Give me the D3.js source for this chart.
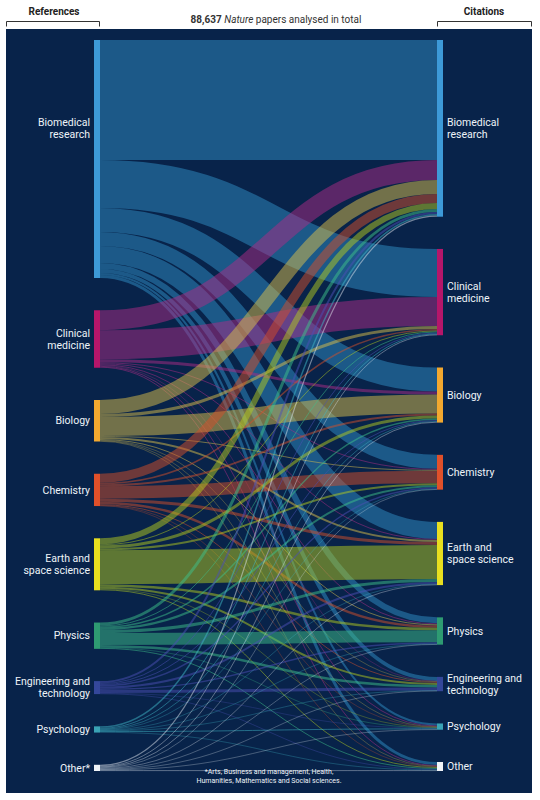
<!DOCTYPE html>
<html>
<head>
<meta charset="utf-8">
<script src="https://cdn.jsdelivr.net/npm/d3@7"></script>
<style>
  body { margin: 0; background: #fff; }
  svg { display: block; }
</style>
</head>
<body>
<div id="chart"></div>
<script>
// fields, in the order they are stacked on both sides
const fields = ["Biomedical research", "Clinical medicine", "Biology", "Chemistry",
    "Earth and space science", "Physics", "Engineering and technology", "Psychology", "Other"];
const refLabels = [["Biomedical", "research"], ["Clinical", "medicine"], ["Biology"], ["Chemistry"],
    ["Earth and", "space science"], ["Physics"], ["Engineering and", "technology"], ["Psychology"], ["Other*"]];
const citeLabels = [["Biomedical", "research"], ["Clinical", "medicine"], ["Biology"], ["Chemistry"],
    ["Earth and", "space science"], ["Physics"], ["Engineering and", "technology"], ["Psychology"], ["Other"]];

// references from one field -> citations in each field (same order as fields)
const fromBiomedical  = [120, 48, 24, 14, 17, 6, 4, 2, 3];
const fromClinical    = [20, 29, 3, 1, 1, 1, 0.5, 1, 1];
const fromBiology     = [14, 3, 19, 1, 2, 1, 0.5, 0.5, 0.5];
const fromChemistry   = [9, 1.5, 2, 12.5, 3, 2.5, 1, 0.3, 0.5];
const fromEarth       = [6, 1, 3, 2, 34, 2.5, 2, 0.5, 1];
const fromPhysics     = [3, 1, 1.5, 2, 3, 12, 2.5, 0.3, 1];
const fromEngineering = [2, 1, 1, 1.5, 2, 1.5, 3, 0.3, 0.7];
const fromPsychology  = [1.5, 1, 0.8, 0.3, 0.5, 0.3, 0.3, 1, 0.5];
const fromOther       = [1.2, 0.8, 0.8, 0.5, 0.7, 0.5, 0.5, 0.4, 0.8];

const totalPapers = "88,637";
const footnote = ["*Arts, Business and management, Health,", "Humanities, Mathematics and Social sciences."];

// styles
const nodeColors = ["#3d9ad8", "#b5166a", "#f2a82f", "#e0502a", "#e8df1f", "#2e9b72", "#34479a", "#3aa3b5", "#f0f4f8"];
const linkColors = ["#2f90c6", "#ad2c86", "#dcc04a", "#d3502a", "#b4cc1e", "#3ec28a", "#4b50b6", "#3fb8c8", "#dfe6ee"];
const bg = "#08234a";
const font = "Roboto, 'Liberation Sans', sans-serif";

const width = 540, height = 800;
const nodeTop = 40, nodeBottom = 771, gap = 32.25, barW = 6;
const leftX = 94, rightX = 437;

const rows = [fromBiomedical, fromClinical, fromBiology, fromChemistry, fromEarth,
    fromPhysics, fromEngineering, fromPsychology, fromOther];
const n = fields.length;
const outTotals = rows.map(r => d3.sum(r));
const inTotals = fields.map((_, j) => d3.sum(rows, r => r[j]));
const total = d3.sum(outTotals);

const h = d3.scaleLinear()
    .domain([0, total])
    .range([0, nodeBottom - nodeTop - gap * (n - 1)]);

function stack(totals) {
    let y = nodeTop;
    return totals.map(t => {
        const node = { y0: y, y1: y + h(t) };
        y = node.y1 + gap;
        return node;
    });
}
const leftNodes = stack(outTotals);
const rightNodes = stack(inTotals);

const links = [];
const srcOff = new Array(n).fill(0), tgtOff = new Array(n).fill(0);
rows.forEach((r, i) => {
    r.forEach((v, j) => {
        const w = h(v);
        links.push({
            source: i, target: j, width: w,
            y0: leftNodes[i].y0 + srcOff[i] + w / 2,
            y1: rightNodes[j].y0 + tgtOff[j] + w / 2
        });
        srcOff[i] += w;
        tgtOff[j] += w;
    });
});

const svg = d3.select("#chart").append("svg")
    .attr("width", width)
    .attr("height", height)
    .style("font-family", font);

// header
svg.append("text")
    .attr("x", 54).attr("y", 15)
    .attr("text-anchor", "middle")
    .style("font-size", "10px").style("font-weight", "bold").attr("fill", "#222")
    .text("References");
svg.append("text")
    .attr("x", 484).attr("y", 15)
    .attr("text-anchor", "middle")
    .style("font-size", "10px").style("font-weight", "bold").attr("fill", "#222")
    .text("Citations");

const title = svg.append("text")
    .attr("x", 276).attr("y", 23)
    .attr("text-anchor", "middle")
    .style("font-size", "10px").attr("fill", "#333");
title.append("tspan").style("font-weight", "bold").text(totalPapers + " ");
title.append("tspan").style("font-style", "italic").text("Nature");
title.append("tspan").text(" papers analysed in total");

const bracket = (x0, x1) => svg.append("path")
    .attr("d", `M${x0},26.5V21.5H${x1}V26.5`)
    .attr("fill", "none").attr("stroke", "#333").attr("stroke-width", 1);
bracket(6.5, 99.5);
bracket(437.5, 531.5);

// panel
svg.append("rect")
    .attr("x", 6).attr("y", 29)
    .attr("width", 526).attr("height", 764)
    .attr("fill", bg);

// links
const linkPath = d3.linkHorizontal()
    .source(d => [leftX + barW, d.y0])
    .target(d => [rightX, d.y1]);

svg.append("g")
    .attr("fill", "none")
    .selectAll("path")
    .data(links)
    .join("path")
    .attr("d", linkPath)
    .attr("stroke", d => linkColors[d.source])
    .attr("stroke-opacity", 0.5)
    .attr("stroke-width", d => Math.max(0.6, d.width));

// nodes
svg.append("g").selectAll("rect")
    .data(leftNodes)
    .join("rect")
    .attr("x", leftX).attr("y", d => d.y0)
    .attr("width", barW).attr("height", d => d.y1 - d.y0)
    .attr("fill", (d, i) => nodeColors[i]);

svg.append("g").selectAll("rect")
    .data(rightNodes)
    .join("rect")
    .attr("x", rightX).attr("y", d => d.y0)
    .attr("width", barW).attr("height", d => d.y1 - d.y0)
    .attr("fill", (d, i) => nodeColors[i]);

// labels
const lineH = 12;
function drawLabels(labels, x, anchor, centerOf) {
    const g = svg.append("g")
        .attr("fill", "#eef3f8")
        .style("font-size", "10.5px");
    labels.forEach((lines, i) => {
        const y = centerOf(i) - (lines.length - 1) * lineH / 2;
        const t = g.append("text")
            .attr("text-anchor", anchor);
        lines.forEach((l, k) => {
            t.append("tspan")
                .attr("x", x)
                .attr("y", y + k * lineH)
                .attr("dy", "0.35em")
                .text(l);
        });
    });
}
const mid = d => (d.y0 + d.y1) / 2;
// biomedical label on the left sits level with its partner on the right
drawLabels(refLabels, leftX - 4, "end",
    i => i === 0 ? mid(rightNodes[0]) : mid(leftNodes[i]));
drawLabels(citeLabels, rightX + barW + 4, "start", i => mid(rightNodes[i]));

// footnote
const fn = svg.append("text")
    .attr("text-anchor", "middle")
    .attr("fill", "#eef3f8")
    .style("font-size", "7px");
footnote.forEach((l, k) => {
    fn.append("tspan").attr("x", 269).attr("y", 774 + k * 9).text(l);
});
</script>
</body>
</html>
